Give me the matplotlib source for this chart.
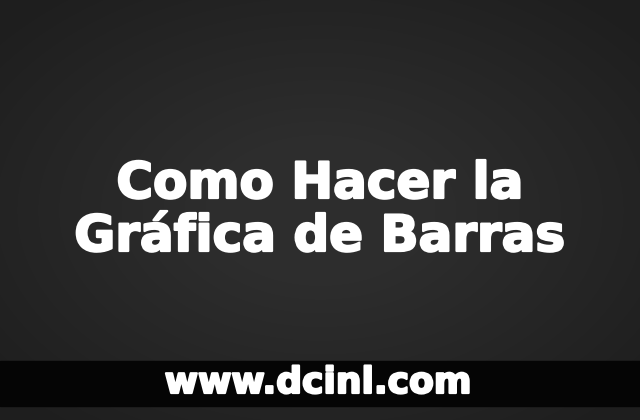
import numpy as np
import matplotlib.pyplot as plt
import matplotlib.patheffects as pe

title_lines = ["Como Hacer la", "Gráfica de Barras"]
footer_text = "www.dcinl.com"

W, H = 640, 420
fig = plt.figure(figsize=(W / 100, H / 100), dpi=100)
ax = fig.add_axes([0, 0, 1, 1])
ax.set_xlim(0, W)
ax.set_ylim(H, 0)
ax.axis("off")

# chalkboard-like background: soft radial vignette
yy, xx = np.mgrid[0:H, 0:W]
r = np.sqrt(((xx - W / 2) / (W / 2)) ** 2 + ((yy - H / 2) / (H / 2)) ** 2)
shade = 0.18 - 0.06 * np.clip(r - 0.3, 0, 1)
bg = np.dstack([shade, shade, shade])
ax.imshow(bg, extent=[0, W, H, 0], aspect="auto", zorder=0)

heavy = [pe.withStroke(linewidth=1.6, foreground="white")]

# title
for i, line in enumerate(title_lines):
    ax.text(W / 2, 198 + i * 53, line, ha="center", va="baseline",
            color="white", fontsize=36, fontweight="bold", family="DejaVu Sans",
            path_effects=heavy, zorder=2)

# footer band
ax.add_patch(plt.Rectangle((0, 361), W, 45, color="#050505", zorder=1))
ax.text(W / 2 - 2, 393, footer_text, ha="center", va="baseline",
        color="white", fontsize=26, fontweight="bold", family="DejaVu Sans",
        path_effects=heavy, zorder=2)

fig.savefig("out.png", dpi=100)
